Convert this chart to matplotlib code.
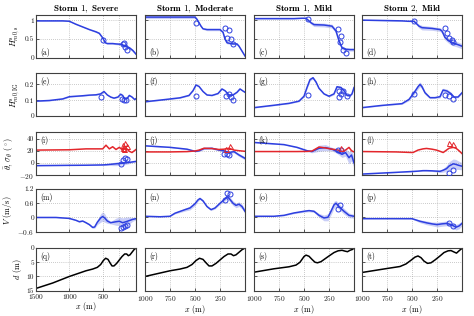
import numpy as np
import matplotlib
matplotlib.use("Agg")
import matplotlib.pyplot as plt

plt.rcParams["font.family"] = "serif"
plt.rcParams["font.serif"] = ["cmr10", "DejaVu Serif"]
plt.rcParams["mathtext.fontset"] = "cm"
plt.rcParams["axes.formatter.use_mathtext"] = True

BLUE = "#2d3fe0"
BAND = "#c9cef7"
RED = "#e3262b"

titles = ["Storm 1, Severe", "Storm 1, Moderate", "Storm 1, Mild", "Storm 2, Mild"]

# --- row 1: sea-swell wave height ---
a_x = [1500, 1100, 1000, 900, 800, 700, 600, 550, 500, 460, 430, 350, 300, 220, 150, 100, 50, 0]
a_y = [0.98, 0.98, 0.97, 0.89, 0.82, 0.75, 0.69, 0.65, 0.53, 0.40, 0.38, 0.38, 0.37, 0.36, 0.30, 0.27, 0.20, 0.10]
a_band = [0.01, 0.01, 0.01, 0.01, 0.01, 0.01, 0.02, 0.02, 0.02, 0.02, 0.02, 0.02, 0.02, 0.03, 0.03, 0.03, 0.03, 0.03]
a_obs_x = [500, 200, 180, 170, 140]
a_obs_y = [0.48, 0.37, 0.40, 0.30, 0.22]

b_x = [1000, 800, 600, 500, 480, 440, 420, 380, 300, 250, 220, 200, 180, 120, 80, 60, 30, 0]
b_y = [1.08, 1.08, 1.08, 1.08, 1.02, 0.84, 0.77, 0.75, 0.75, 0.75, 0.68, 0.50, 0.40, 0.37, 0.37, 0.31, 0.18, 0.05]
b_band = [0.04, 0.04, 0.04, 0.04, 0.03, 0.02, 0.02, 0.03, 0.03, 0.03, 0.03, 0.03, 0.03, 0.02, 0.02, 0.02, 0.02, 0.02]
b_obs_x = [491, 199, 178, 165, 145, 125]
b_obs_y = [0.93, 0.80, 0.53, 0.73, 0.49, 0.37]

c_x = [1000, 800, 600, 520, 480, 430, 400, 300, 220, 180, 150, 120, 90, 40, 0]
c_y = [1.04, 1.04, 1.04, 1.05, 1.05, 0.93, 0.88, 0.87, 0.84, 0.71, 0.45, 0.27, 0.23, 0.22, 0.22]
c_band = [0.01, 0.01, 0.01, 0.01, 0.02, 0.04, 0.05, 0.05, 0.05, 0.05, 0.06, 0.05, 0.04, 0.04, 0.04]
c_obs_x = [461, 158, 131, 138, 108, 81]
c_obs_y = [1.04, 0.77, 0.58, 0.42, 0.22, 0.13]

d_x = [1000, 800, 600, 540, 480, 430, 400, 300, 220, 200, 170, 130, 100, 50, 0]
d_y = [1.00, 0.99, 0.98, 0.97, 0.97, 0.84, 0.80, 0.78, 0.75, 0.71, 0.54, 0.45, 0.40, 0.36, 0.31]
d_band = [0.01, 0.01, 0.01, 0.01, 0.02, 0.05, 0.06, 0.05, 0.05, 0.06, 0.07, 0.07, 0.07, 0.07, 0.07]
d_obs_x = [485, 166, 153, 130, 103, 86]
d_obs_y = [0.97, 0.80, 0.65, 0.53, 0.47, 0.42]

# --- row 2: infragravity wave height ---
e_x = [1500, 1300, 1100, 1000, 900, 800, 700, 600, 530, 480, 430, 380, 330, 270, 230, 200, 170, 130, 100, 60, 20, 0]
e_y = [0.094, 0.098, 0.108, 0.122, 0.125, 0.128, 0.132, 0.134, 0.140, 0.155, 0.133, 0.120, 0.113, 0.120,
       0.138, 0.130, 0.108, 0.113, 0.130, 0.120, 0.104, 0.110]
e_band = [0.003] * 22
e_obs_x = [518, 206, 181, 146]
e_obs_y = [0.118, 0.108, 0.104, 0.100]

f_x = [1000, 800, 650, 560, 520, 490, 460, 420, 380, 330, 270, 230, 200, 160, 120, 80, 50, 20, 0]
f_y = [0.090, 0.104, 0.115, 0.130, 0.160, 0.196, 0.187, 0.155, 0.133, 0.130, 0.142, 0.171, 0.160, 0.133,
       0.133, 0.150, 0.171, 0.158, 0.150]
f_band = [0.003] * 19
f_obs_x = [491, 192, 165, 145, 121]
f_obs_y = [0.126, 0.126, 0.141, 0.122, 0.100]

g_x = [1000, 800, 650, 550, 500, 470, 440, 410, 380, 350, 300, 250, 200, 170, 130, 100, 70, 40, 20, 0]
g_y = [0.053, 0.068, 0.080, 0.094, 0.125, 0.180, 0.230, 0.242, 0.215, 0.175, 0.140, 0.125, 0.140, 0.185,
       0.180, 0.160, 0.130, 0.128, 0.140, 0.180]
g_band = [0.003, 0.003, 0.003, 0.004, 0.006, 0.008, 0.008, 0.008, 0.008, 0.006, 0.005, 0.005, 0.006, 0.008,
          0.008, 0.006, 0.005, 0.005, 0.005, 0.005]
g_obs_x = [461, 152, 131, 108, 148, 74]
g_obs_y = [0.133, 0.158, 0.141, 0.158, 0.122, 0.126]

h_x = [1000, 800, 600, 530, 480, 440, 420, 400, 370, 320, 270, 220, 190, 150, 110, 80, 40, 0]
h_y = [0.053, 0.067, 0.078, 0.105, 0.147, 0.185, 0.200, 0.185, 0.147, 0.116, 0.116, 0.122, 0.164, 0.158,
       0.141, 0.120, 0.120, 0.147]
h_band = [0.003, 0.003, 0.004, 0.008, 0.012, 0.015, 0.015, 0.014, 0.010, 0.006, 0.005, 0.008, 0.012, 0.012,
          0.010, 0.006, 0.005, 0.005]
h_obs_x = [485, 166, 130, 90]
h_obs_y = [0.141, 0.130, 0.126, 0.110]

# --- row 3: mean direction (blue) and spread (red) ---
i_x = [1500, 1000, 750, 500, 450, 400, 350, 300, 250, 200, 150, 100, 60, 30, 0]
i_sig = [21.0, 21.5, 23.0, 23.0, 29.0, 23.0, 26.5, 22.0, 25.5, 21.0, 24.5, 19.0, 17.0, 19.5, 22.0]
i_theta = [-4.5, -4.0, -3.8, -3.3, -3.0, -2.5, -2.0, -1.5, -1.0, -0.5, 0.0, 0.8, 1.5, 2.0, 2.5]
i_band = [0.3, 0.3, 0.5, 0.8, 1.0, 1.5, 2.5, 3.0, 3.0, 3.0, 2.5, 2.0, 1.5, 1.0, 1.0]
i_tri_x = [200, 190, 175, 160, 140]
i_tri_y = [24, 30, 22, 32, 28]
i_obs_x = [220, 200, 171, 136]
i_obs_y = [-2.6, 4.6, 7.4, 6.9]

j_x = [1000, 750, 580, 500, 460, 410, 330, 260, 210, 160, 110, 60, 0]
j_theta = [28.0, 25.5, 22.5, 19.0, 19.8, 23.5, 24.0, 21.0, 19.8, 17.0, 18.5, 13.0, 7.5]
j_sig = [18.0, 18.0, 18.5, 19.5, 21.0, 24.0, 23.5, 22.0, 22.5, 24.0, 21.0, 20.0, 19.0]
j_band = [0.5, 0.5, 0.8, 1.0, 1.0, 1.5, 1.5, 1.5, 2.0, 2.0, 2.0, 2.5, 2.5]
j_tri_x = [195, 155]
j_tri_y = [22, 28]
j_obs_x = [211, 185, 158]
j_obs_y = [15.3, 15.3, 13.0]

k_x = [1000, 700, 570, 470, 420, 350, 285, 220, 170, 120, 85, 50, 25, 0]
k_theta = [33.5, 30.0, 25.5, 20.0, 18.6, 24.0, 25.0, 22.5, 18.6, 14.0, 17.0, 8.5, 13.0, 0.0]
k_sig = [18.6, 18.6, 18.6, 18.8, 19.5, 26.0, 24.5, 22.5, 21.5, 18.6, 21.0, 25.4, 20.0, 18.0]
k_band = [0.5, 0.5, 1.0, 1.5, 2.0, 5.0, 5.0, 3.0, 3.0, 5.0, 6.0, 10.0, 10.0, 8.0]
k_tri_x = [131]
k_tri_y = [24.4]
k_obs_x = [158, 135]
k_obs_y = [20.5, 21.7]

l_x = [1000, 660, 490, 440, 390, 355, 300, 255, 220, 188, 155, 128, 87, 60, 37, 0]
l_sig = [18.6, 18.0, 17.0, 21.0, 23.0, 23.7, 22.5, 21.0, 19.0, 17.0, 21.0, 24.2, 25.4, 24.0, 21.0, 15.3]
l_theta = [-18.3, -15.5, -14.0, -13.5, -12.7, -12.7, -13.0, -13.5, -13.8, -12.0, -9.4, -5.0, -1.5, -2.5,
           -3.8, -5.4]
l_band = [0.3, 0.5, 0.5, 0.5, 1.0, 1.0, 1.0, 1.5, 2.0, 3.0, 5.0, 7.0, 8.0, 8.0, 7.0, 6.0]
l_tri_x = [131, 94]
l_tri_y = [32, 31]
l_obs_x = [128, 87]
l_obs_y = [-16.6, -12.2]

# --- row 4: alongshore current ---
m_x = [1500, 1200, 1000, 900, 850, 800, 750, 700, 650, 620, 580, 530, 500, 470, 430, 380, 300, 250, 200,
       150, 100, 50, 0]
m_y = [0.0, 0.0, -0.04, -0.12, -0.18, -0.15, -0.22, -0.30, -0.42, -0.40, -0.20, -0.02, 0.04, -0.02, -0.15,
       -0.22, -0.18, -0.16, -0.22, -0.18, -0.13, -0.08, -0.05]
m_band = [0.01, 0.01, 0.01, 0.02, 0.02, 0.02, 0.03, 0.03, 0.04, 0.05, 0.10, 0.18, 0.20, 0.18, 0.10, 0.05,
          0.15, 0.18, 0.20, 0.20, 0.15, 0.08, 0.05]
m_obs_x = [220, 191, 161, 141]
m_obs_y = [-0.43, -0.41, -0.36, -0.30]

n_x = [1000, 850, 750, 700, 600, 550, 500, 470, 450, 420, 380, 340, 300, 250, 200, 180, 160, 120, 90, 60,
       30, 0]
n_y = [0.05, 0.03, 0.05, 0.18, 0.33, 0.40, 0.58, 0.74, 0.80, 0.70, 0.46, 0.33, 0.40, 0.60, 0.78, 0.88,
       0.81, 0.60, 0.51, 0.56, 0.46, 0.26]
n_band = [0.01, 0.01, 0.01, 0.03, 0.06, 0.08, 0.08, 0.06, 0.04, 0.04, 0.04, 0.04, 0.04, 0.05, 0.08, 0.10,
          0.10, 0.10, 0.10, 0.10, 0.10, 0.10]
n_obs_x = [201, 178, 154]
n_obs_y = [0.74, 1.02, 0.99]

o_x = [1000, 800, 700, 600, 500, 450, 400, 350, 300, 260, 230, 200, 180, 150, 100, 50, 0]
o_y = [0.05, 0.05, 0.09, 0.19, 0.26, 0.29, 0.26, 0.09, -0.02, 0.01, 0.26, 0.53, 0.60, 0.46, 0.26, 0.09, 0.05]
o_band = [0.01, 0.01, 0.02, 0.03, 0.04, 0.05, 0.05, 0.08, 0.12, 0.15, 0.15, 0.15, 0.12, 0.12, 0.12, 0.10, 0.08]
o_obs_x = [161, 141]
o_obs_y = [0.37, 0.51]

p_x = [1000, 700, 500, 420, 350, 300, 250, 200, 150, 100, 60, 30, 0]
p_y = [-0.05, -0.05, -0.05, -0.16, -0.23, -0.27, -0.30, -0.27, -0.25, -0.32, -0.41, -0.36, -0.25]
p_band = [0.01, 0.01, 0.02, 0.06, 0.08, 0.08, 0.10, 0.10, 0.10, 0.10, 0.12, 0.12, 0.10]
p_obs_x = [134, 87]
p_obs_y = [-0.23, -0.36]

# --- row 5: depth profiles ---
depth_s1_x = [1500, 1250, 1000, 850, 750, 650, 580, 530, 490, 455, 420, 390, 360, 330, 290, 250, 210, 170,
              140, 115, 90, 60, 30, 0]
depth_s1 = [14.2, 12.3, 10.0, 8.8, 8.0, 7.4, 6.8, 5.8, 4.4, 3.6, 4.0, 5.2, 6.3, 6.3, 5.4, 4.2, 3.0, 2.1,
            2.1, 2.7, 2.4, 1.5, 0.6, 0.0]
depth_s1m_x = [1000, 800, 650, 580, 540, 500, 480, 450, 420, 390, 365, 330, 290, 250, 200, 160, 120, 90,
               65, 40, 15, 0]
depth_s1m = [8.5, 7.3, 6.6, 6.0, 5.0, 3.0, 2.5, 2.9, 4.0, 5.0, 5.2, 4.8, 3.8, 2.8, 1.6, 1.0, 0.8, 1.1,
             1.3, 0.8, 0.5, 0.0]
depth_s2_x = [1000, 750, 620, 560, 510, 470, 440, 410, 380, 345, 310, 270, 220, 180, 140, 110, 80, 55, 30,
              10, 0]
depth_s2 = [8.6, 7.2, 6.5, 5.6, 4.3, 3.2, 2.8, 3.4, 4.6, 5.4, 5.2, 4.2, 2.8, 1.6, 1.0, 0.9, 1.4, 1.8, 1.0,
            0.4, 0.2]

W, H = 474, 316
COL_LEFT = [36, 145, 254, 362]
ROW_TOP = [15.2, 73.3, 132.4, 189.0, 248.0]
AX_W, AX_H = 100, 42.7


def make_axes(fig, row, col):
    left = COL_LEFT[col] / W
    bottom = 1 - (ROW_TOP[row] + AX_H) / H
    ax = fig.add_axes([left, bottom, AX_W / W, AX_H / H])
    for s in ax.spines.values():
        s.set_linewidth(0.8)
        s.set_color("0.25")
    ax.tick_params(direction="in", length=2, width=0.5, labelsize=5.3, colors="0.1")
    ax.tick_params(axis="y", pad=1.5)
    ax.tick_params(axis="x", pad=2.5)
    ax.grid(True, linestyle=(0, (1, 2)), linewidth=0.5, color="0.6")
    if col == 0:
        ax.set_xlim(1500, 0)
        ax.set_xticks([1500, 1000, 500, 250])
        ax.set_xticklabels(["1500", "1000", "500", ""])
    else:
        ax.set_xlim(1000, 0)
        ax.set_xticks([1000, 750, 500, 250])
    if row < 4:
        ax.tick_params(labelbottom=False)
    if col > 0:
        ax.tick_params(labelleft=False)
    return ax


def band_line(ax, x, y, band, color=BLUE):
    x = np.asarray(x, float)
    y = np.asarray(y, float)
    band = np.asarray(band, float)
    ax.fill_between(x, y - band, y + band, color=BAND, linewidth=0, zorder=1)
    ax.plot(x, y, color=color, linewidth=1.1, zorder=2)


def circles(ax, x, y, color=BLUE, marker="o"):
    ax.plot(x, y, linestyle="none", marker=marker, markersize=3.6, markerfacecolor="none",
            markeredgecolor=color, markeredgewidth=0.7, zorder=3)


def panel_label(ax, letter, top=True):
    ypos = 0.80 if top else 0.13
    ax.text(0.04, ypos, f"({letter})", transform=ax.transAxes, fontsize=5.5, va="center", ha="left")


def main() -> None:
    fig = plt.figure(figsize=(W / 100, H / 100), dpi=100)

    row1 = [(a_x, a_y, a_band, a_obs_x, a_obs_y), (b_x, b_y, b_band, b_obs_x, b_obs_y),
            (c_x, c_y, c_band, c_obs_x, c_obs_y), (d_x, d_y, d_band, d_obs_x, d_obs_y)]
    row2 = [(e_x, e_y, e_band, e_obs_x, e_obs_y), (f_x, f_y, f_band, f_obs_x, f_obs_y),
            (g_x, g_y, g_band, g_obs_x, g_obs_y), (h_x, h_y, h_band, h_obs_x, h_obs_y)]
    row3 = [(i_x, i_theta, i_sig, i_band, i_obs_x, i_obs_y, i_tri_x, i_tri_y),
            (j_x, j_theta, j_sig, j_band, j_obs_x, j_obs_y, j_tri_x, j_tri_y),
            (k_x, k_theta, k_sig, k_band, k_obs_x, k_obs_y, k_tri_x, k_tri_y),
            (l_x, l_theta, l_sig, l_band, l_obs_x, l_obs_y, l_tri_x, l_tri_y)]
    row4 = [(m_x, m_y, m_band, m_obs_x, m_obs_y), (n_x, n_y, n_band, n_obs_x, n_obs_y),
            (o_x, o_y, o_band, o_obs_x, o_obs_y), (p_x, p_y, p_band, p_obs_x, p_obs_y)]
    row5 = [(depth_s1_x, depth_s1), (depth_s1_x, depth_s1), (depth_s1m_x, depth_s1m), (depth_s2_x, depth_s2)]
    letters = "abcdefghijklmnopqrst"

    for col in range(4):
        # row 1
        ax = make_axes(fig, 0, col)
        x, y, band, ox, oy = row1[col]
        band_line(ax, x, y, band)
        circles(ax, ox, oy)
        ax.set_ylim(0, 1.13)
        ax.set_yticks([0, 0.5, 1])
        ax.set_yticklabels(["0", "0.5", "1"])
        panel_label(ax, letters[col], top=False)
        ax.set_title(r"$\mathbf{" + titles[col].replace(" ", r"\ ") + "}$", fontsize=6.5, pad=3)
        if col == 0:
            ax.set_ylabel(r"$H^{\rm s}_{m0,{\rm s}}$", fontsize=6, labelpad=2)

        # row 2
        ax = make_axes(fig, 1, col)
        x, y, band, ox, oy = row2[col]
        band_line(ax, x, y, band)
        circles(ax, ox, oy)
        ax.set_ylim(0, 0.27)
        ax.set_yticks([0, 0.1, 0.2])
        ax.set_yticklabels(["0", "0.1", "0.2"])
        panel_label(ax, letters[4 + col])
        if col == 0:
            ax.set_ylabel(r"$H^{\rm s}_{m0,{\rm IG}}$", fontsize=6, labelpad=2)

        # row 3
        ax = make_axes(fig, 2, col)
        x, th, sg, band, ox, oy, tx, ty = row3[col]
        band_line(ax, x, th, band)
        ax.plot(x, sg, color=RED, linewidth=1.1, zorder=2)
        circles(ax, ox, oy)
        circles(ax, tx, ty, color=RED, marker="^")
        ax.set_ylim(-20, 50)
        ax.set_yticks([-20, 0, 20, 40])
        ax.set_yticklabels([r"$-20$", "0", "20", "40"])
        panel_label(ax, letters[8 + col])
        if col == 0:
            ax.set_ylabel(r"$\bar{\theta}$, $\sigma_\theta$ ($^\circ$)", fontsize=6, labelpad=2)

        # row 4
        ax = make_axes(fig, 3, col)
        x, y, band, ox, oy = row4[col]
        band_line(ax, x, y, band)
        circles(ax, ox, oy)
        ax.set_ylim(-0.6, 1.2)
        ax.set_yticks([-0.6, 0, 0.6, 1.2])
        ax.set_yticklabels([r"$-0.6$", "0", "0.6", "1.2"])
        panel_label(ax, letters[12 + col])
        if col == 0:
            ax.set_ylabel(r"$V$ (m/s)", fontsize=6, labelpad=2)

        # row 5
        ax = make_axes(fig, 4, col)
        x, dep = row5[col]
        ax.plot(x, dep, color="black", linewidth=1.1)
        ax.set_ylim(15, 0)
        ax.set_yticks([0, 5, 10, 15])
        ax.set_yticklabels(["0", "5", "10", "15"])
        panel_label(ax, letters[16 + col])
        ax.set_xlabel(r"$x$ (m)", fontsize=5.8, labelpad=0)
        if col == 0:
            ax.set_ylabel(r"$d$ (m)", fontsize=6, labelpad=2)

    fig.savefig("out.png", dpi=100)
    plt.close(fig)


if __name__ == "__main__":
    main()
